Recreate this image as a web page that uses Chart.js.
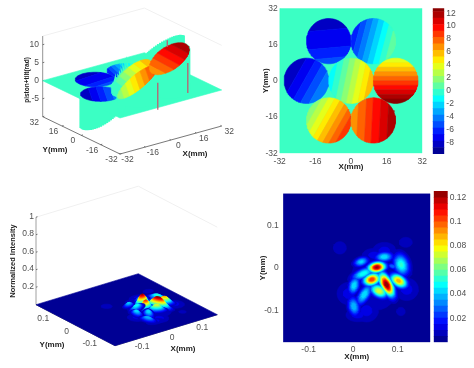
<!DOCTYPE html>
<html>
<head>
<meta charset="utf-8">
<style>
  body{margin:0;background:#fff;width:474px;height:368px;overflow:hidden;position:relative}
  canvas{position:absolute;filter:blur(0.45px)}
</style>
<script src="https://cdn.jsdelivr.net/npm/chart.js@4/dist/chart.umd.min.js"></script>
</head>
<body>
<canvas id="surf3d" style="left:0;top:0" width="237" height="184"></canvas>
<canvas id="phaseMap" style="left:237px;top:0" width="193" height="184"></canvas>
<canvas id="phaseBar" style="left:430px;top:0" width="44" height="184"></canvas>
<canvas id="int3d" style="left:0;top:184px" width="237" height="184"></canvas>
<canvas id="intMap" style="left:237px;top:184px" width="197" height="184"></canvas>
<canvas id="intBar" style="left:431px;top:184px" width="43" height="184"></canvas>
<script>
// ------------------ DATA ------------------
const circleX = [-10, 10, -20, 0, 20, -10, 10];
const circleY = [17.5, 17.5, 0, 0, 0, -17.5, -17.5];
const circleDir = [-85, -15, -30, -12, -90, -30, -3];
const circleEdges = [
  [-10,-5,3,7.5,10],
  [-10,-7.5,-5,-2.5,0,2.5,5,7.5,10],
  [-10,-5,-1,2.5,6,10],
  [-10,-7.5,-5,-2.5,0,2.5,5,7.5,10],
  [-10,-8,-6,-4,-2,0,2,4,6,8,10],
  [-10,-7.5,-5,-2.5,0,2.5,5,7.5,10],
  [-10,-7,-3.5,-0.5,3,6.5,10]
];
const circleValues = [
  [-8.5,-7.5,-6.5,-5.5],
  [-6.5,-5.5,-4.5,-3.5,-2.5,-1.5,-0.5,0.5],
  [-8.5,-7.5,-6.5,-5.5,-4.5],
  [-1.5,-0.5,0.5,1.5,2.5,3.5,4.5,5.5],
  [3.5,4.5,5.5,6.5,7.5,8.5,9.5,10.5,11.5,12.5],
  [1.5,2.5,3.5,4.5,5.5,6.5,7.5,8.5],
  [6.5,7.5,8.5,9.5,10.5,11.5]
];
const streakX = [16, -1, 27];
const streakY = [-25, -22.5, 6.5];
const streakBottom = [0, -3, 6.3];
const streakTop = [8.3, 4.5, 8.2];

const mapTicks = [-32, -16, 0, 16, 32];
const zTicks1 = [-5, 0, 5, 10];
const phaseBarTicks = [-8, -6, -4, -2, 0, 2, 4, 6, 8, 10, 12];
const phaseLevels = [-9.75,-8.75,-7.75,-6.75,-5.75,-4.75,-3.75,-2.75,-1.75,-0.75,0.25,1.25,2.25,3.25,4.25,5.25,6.25,7.25,8.25,9.25,10.25,11.25,12.25,12.75];

const blobX = [0.05,-0.03,0.118,0.01,0.047,0.107,0.07,-0.01,0.12,0.03,0.053,0.075,0.042,0.102,0.058,0.023,0.018,0.0695,0.108,0.002,0.025,0.0015,0.088];
const blobY = [-0.03,0.047,0.06,-0.11,0.03,-0.102,0.04,-0.06,-0.05,-0.1,0.0015,-0.039,-0.027,-0.03,-0.054,-0.013,0.0145,0.026,0.0075,-0.041,-0.062,-0.09,0.004];
const blobPeak = [0.013,0.008,0.008,0.012,0.012,0.008,0.012,0.012,0.012,0.012,0.122,0.126,0.105,0.09,0.075,0.05,0.042,0.045,0.052,0.045,0.045,0.04,0.03];
const blobSx = [0.04,0.015,0.015,0.02,0.02,0.01,0.02,0.02,0.02,0.02,0.0125,0.008,0.0125,0.0135,0.0135,0.018,0.011,0.013,0.011,0.0075,0.008,0.0085,0.007];
const blobSy = [0.05,0.015,0.012,0.012,0.012,0.01,0.015,0.02,0.02,0.02,0.0075,0.019,0.0085,0.0085,0.009,0.0075,0.0065,0.0075,0.017,0.014,0.018,0.015,0.004];
const blobTilt = [0,0,0,0,0,0,0,0,0,0,10,25,20,-35,-30,25,20,5,15,-15,-30,10,-20];

const intXRange = [-0.157, 0.173];
const intYRange = [-0.174, 0.174];
const intTicks = [-0.1, 0, 0.1];
const zTicks3 = [0.2, 0.4, 0.6, 0.8, 1];
const intBarTicks = [0.02, 0.04, 0.06, 0.08, 0.1, 0.12];
const intLevels = [0,0.005,0.01,0.015,0.02,0.025,0.03,0.035,0.04,0.045,0.05,0.055,0.06,0.065,0.07,0.075,0.08,0.085,0.09,0.095,0.1,0.105,0.11,0.115,0.12,0.1255];

const TURQ = jet(0.433);
const FONT = '"Liberation Sans", Arial, sans-serif';
const TICK_COLOR = '#4f4f4f';
const TITLE_COLOR = '#222';

Chart.defaults.animation = false;
Chart.defaults.responsive = false;
Chart.defaults.events = [];
Chart.defaults.font.family = FONT;
Chart.defaults.font.size = 8.5;
Chart.defaults.plugins.legend.display = false;
Chart.defaults.plugins.tooltip.enabled = false;

// ------------------ COLOUR ------------------
function jet(t){
  const c = v => Math.round(255*Math.max(0, Math.min(1, v)));
  return 'rgb('+c(1.5-Math.abs(4*t-3))+','+c(1.5-Math.abs(4*t-2))+','+c(1.5-Math.abs(4*t-1))+')';
}
function bandColor(levels, v){
  const lo = levels[0], hi = levels[levels.length-1];
  let i = 0;
  while(i < levels.length-2 && v >= levels[i+1]) i++;
  return jet(((levels[i]+levels[i+1])/2-lo)/(hi-lo));
}

// ------------------ DATASET HELPERS ------------------
function poly(points, color){
  return {data:points, showLine:true, fill:'shape', backgroundColor:color, borderColor:color, borderWidth:0.6, pointRadius:0, tension:0};
}
function line(points, color, w){
  return {data:points, showLine:true, fill:false, borderColor:color, borderWidth:w||1, pointRadius:0, tension:0};
}
function zigzag(points, color){
  return {data:points, showLine:true, fill:'shape', backgroundColor:color, borderColor:color, borderWidth:2.5, pointRadius:0, tension:0};
}

// outline of one stripe of a circle, in mm
function stripe(c, s0, s1){
  const r = 10, d = circleDir[c]*Math.PI/180;
  const a0 = Math.acos(Math.max(-1, Math.min(1, s0/r))), a1 = Math.acos(Math.max(-1, Math.min(1, s1/r)));
  const pts = [];
  const toXY = (u, w) => ({x:circleX[c]+u*Math.cos(d)-w*Math.sin(d), y:circleY[c]+u*Math.sin(d)+w*Math.cos(d)});
  for(let i=0;i<=10;i++){ const a=a0+(a1-a0)*i/10; pts.push(toXY(r*Math.cos(a), r*Math.sin(a))); }
  for(let i=10;i>=0;i--){ const a=a0+(a1-a0)*i/10; pts.push(toXY(r*Math.cos(a), -r*Math.sin(a))); }
  pts.push(pts[0]);
  return pts;
}
// height of the circle's surface at a point, from its stripes
function heightAt(c, p){
  const d = circleDir[c]*Math.PI/180, e = circleEdges[c], v = circleValues[c];
  const s = (p.x-circleX[c])*Math.cos(d)+(p.y-circleY[c])*Math.sin(d);
  const edgeZ = e.map((_, j) => j===0 ? v[0]-0.5 : j===e.length-1 ? v[v.length-1]+0.5 : (v[j-1]+v[j])/2);
  let j = 0;
  while(j < e.length-2 && s > e[j+1]) j++;
  return edgeZ[j]+(edgeZ[j+1]-edgeZ[j])*(s-e[j])/(e[j+1]-e[j]);
}
function rim(c, steps){
  const pts = [];
  for(let i=0;i<=steps;i++){
    const a = 2*Math.PI*i/steps;
    pts.push({x:circleX[c]+10*Math.cos(a), y:circleY[c]+10*Math.sin(a)});
  }
  return pts;
}
// outline of one contour of a blob
function blobRing(b, level){
  const k = Math.sqrt(2*Math.log(blobPeak[b]/level));
  const t = blobTilt[b]*Math.PI/180;
  const pts = [];
  for(let i=0;i<=28;i++){
    const a = 2*Math.PI*i/28;
    const u = k*blobSx[b]*Math.cos(a), w = k*blobSy[b]*Math.sin(a);
    pts.push({x:blobX[b]+u*Math.cos(t)-w*Math.sin(t), y:blobY[b]+u*Math.sin(t)+w*Math.cos(t)});
  }
  return pts;
}

// ------------------ 3D VIEWS ------------------
function proj1(X, Y, Z){
  const a=(X+32)/64, b=(Y+32)/64;
  return {x:120+a*101.7-b*77.3, y:154-a*28-b*37.3-(Z+10)*3.6};
}
function proj3(X, Y, Z){
  const a=(X+0.17)/0.34, b=(Y+0.17)/0.34;
  return {x:115+a*102.3-b*79, y:161.7-a*31-b*41-Z*87.5};
}
const screenScales = {
  x:{type:'linear', min:0, max:237, display:false},
  y:{type:'linear', min:0, max:184, reverse:true, display:false}
};
function textPlugin(items){
  return {
    id:'labels3d',
    afterDatasetsDraw(chart){
      const ctx = chart.ctx;
      ctx.save();
      items.forEach(t => {
        ctx.font = (t.bold ? 'bold ' : '')+(t.size||8.5)+'px '+FONT;
        ctx.fillStyle = t.bold ? TITLE_COLOR : TICK_COLOR;
        ctx.textAlign = t.align || 'center';
        ctx.textBaseline = 'middle';
        ctx.save();
        ctx.translate(t.x, t.y);
        if(t.rot) ctx.rotate(t.rot);
        ctx.fillText(t.text, 0, 0);
        ctx.restore();
      });
      ctx.restore();
    }
  };
}

// ------------------ TOP LEFT: SURFACE ------------------
function surfaceChart(){
  const ds = [];
  const P = proj1;
  // pale back box
  ds.push(line([P(-32,32,12.4),P(32,32,12.4),P(32,-32,12.4)], '#f0f0f0', 1));
  ds.push(line([P(-32,32,-10),P(-32,32,12.4)], '#777', 0.8));
  ds.push(line([P(-32,32,-10),P(-32,-32,-10),P(32,-32,-10)], '#555', 0.8));
  mapTicks.forEach(v => {
    ds.push(line([P(-32,v,-10),P(-31,v,-10)], '#555', 0.8));
    ds.push(line([P(v,-32,-10),P(v,-31,-10)], '#555', 0.8));
  });
  zTicks1.forEach(v => ds.push(line([P(-32,32,v),P(-31,32,v)], '#555', 0.8)));

  // hanging wall under the deepest circle, then the plane
  const zig = (c, bottom) => {
    const pts = [];
    rim(c, 60).forEach(p => { pts.push(P(p.x,p.y,heightAt(c,p))); pts.push(P(p.x,p.y,bottom)); });
    return pts;
  };
  ds.push(zigzag(zig(2, 0), TURQ));
  ds.push(poly([P(-32,32,0),P(-32,-32,0),P(32,-32,0),P(32,32,0),P(-32,32,0)], TURQ));

  // circles under the plane show through their openings
  [0,1,2,3].forEach(c => {
    circleValues[c].forEach((v, i) => {
      if(v > 0.6) return;
      const pts = stripe(c, circleEdges[c][i], circleEdges[c][i+1]).map(p => P(p.x,p.y,0));
      ds.push(poly(pts, bandColor(phaseLevels, v)));
    });
  });

  // raised circles: walls first, then the tilted tops
  [4,3,6,5].forEach(c => ds.push(zigzag(zig(c, 0), TURQ)));
  [3,5,6].forEach(c => {
    circleValues[c].forEach((v, i) => {
      if(v < 0) return;
      const pts = stripe(c, circleEdges[c][i], circleEdges[c][i+1]).map(p => P(p.x,p.y,heightAt(c,p)));
      ds.push(poly(pts, bandColor(phaseLevels, v)));
    });
  });
  streakX.forEach((x, i) => {
    ds.push(line([P(x,streakY[i],streakBottom[i]),P(x,streakY[i],streakTop[i])], '#c8506a', 1.2));
  });

  const labels = [];
  mapTicks.forEach(v => {
    const a = P(-32,v,-10), b = P(v,-32,-10);
    labels.push({text:String(v), x:a.x-8.5, y:a.y+5.5});
    labels.push({text:String(v), x:b.x+7.5, y:b.y+5.5});
  });
  zTicks1.forEach(v => labels.push({text:String(v), x:39, y:P(-32,32,v).y, align:'right'}));
  labels.push({text:'Y(mm)', x:55, y:150, bold:true, size:8});
  labels.push({text:'X(mm)', x:195, y:154, bold:true, size:8});
  labels.push({text:'piston+tilt(rad)', x:27, y:80, rot:-Math.PI/2, bold:true, size:6.5});

  new Chart(document.getElementById('surf3d'), {
    type:'scatter',
    data:{datasets:ds.reverse()},
    options:{scales:screenScales, layout:{padding:0}},
    plugins:[textPlugin(labels)]
  });
}

// ------------------ 2D MAP AXES ------------------
function mapScale(min, max, ticks, title, pinned, tickPad, titlePad){
  return {
    type:'linear', min:min, max:max,
    grid:{display:false, drawTicks:false}, border:{display:false},
    afterBuildTicks(axis){ axis.ticks = ticks.map(v => ({value:v})); },
    afterFit(axis){
      if(axis.isHorizontal()) axis.height = pinned; else axis.width = pinned;
    },
    ticks:{autoSkip:false, maxRotation:0, color:TICK_COLOR, padding:tickPad, font:{size:8.5}, callback:v => String(v)},
    title:{display:true, text:title, color:TITLE_COLOR, padding:{top:titlePad, bottom:titlePad}, font:{size:8, weight:'bold'}}
  };
}

// ------------------ TOP RIGHT: PHASE MAP ------------------
function phaseMapChart(){
  const ds = [poly([{x:-32,y:-32},{x:32,y:-32},{x:32,y:32},{x:-32,y:32},{x:-32,y:-32}], TURQ)];
  circleValues.forEach((vals, c) => {
    vals.forEach((v, i) => ds.push(poly(stripe(c, circleEdges[c][i], circleEdges[c][i+1]), bandColor(phaseLevels, v))));
  });
  new Chart(document.getElementById('phaseMap'), {
    type:'scatter',
    data:{datasets:ds.reverse()},
    options:{
      layout:{padding:{left:0, right:3, top:8.3, bottom:0}},
      scales:{
        x:mapScale(-32, 32, mapTicks, 'X(mm)', 30.7, 3, 12),
        y:mapScale(-32, 32, mapTicks, 'Y(mm)', 42.7, 2, 24)
      }
    }
  });
}

// ------------------ COLOUR BARS ------------------
function colorBar(id, levels, ticks, padding, axisWidth){
  const ds = [];
  for(let i=0;i<levels.length-1;i++){
    ds.push({
      data:[[levels[i], levels[i+1]]],
      backgroundColor:bandColor(levels, (levels[i]+levels[i+1])/2),
      borderWidth:0, barPercentage:1, categoryPercentage:1
    });
  }
  new Chart(document.getElementById(id), {
    type:'bar',
    data:{labels:[''], datasets:ds},
    options:{
      layout:{padding:padding},
      scales:{
        x:{stacked:true, display:false},
        y:{
          type:'linear', position:'right',
          min:levels[0], max:levels[levels.length-1],
          grid:{display:false, drawTicks:false}, border:{display:false},
          afterBuildTicks(axis){ axis.ticks = ticks.map(v => ({value:v})); },
          afterFit(axis){ axis.width = axisWidth; },
          ticks:{autoSkip:false, color:TICK_COLOR, padding:2, font:{size:8.5}, callback:v => String(v)}
        }
      }
    }
  });
}

// ------------------ BOTTOM LEFT: INTENSITY 3D ------------------
function intensity3dChart(){
  const P = proj3, ds = [];
  ds.push(line([P(-0.17,0.17,1),P(0.17,0.17,1),P(0.17,-0.17,1)], '#f0f0f0', 1));
  ds.push(line([P(-0.17,0.17,0),P(-0.17,0.17,1)], '#888', 0.8));
  ds.push(line([P(-0.17,0.17,0),P(-0.17,-0.17,0),P(0.17,-0.17,0)], '#555', 0.8));
  intTicks.forEach(v => {
    ds.push(line([P(-0.17,v,0),P(-0.165,v,0)], '#555', 0.8));
    ds.push(line([P(v,-0.17,0),P(v,-0.165,0)], '#555', 0.8));
  });
  zTicks3.forEach(v => ds.push(line([P(-0.17,0.17,v),P(-0.165,0.17,v)], '#555', 0.8)));
  ds.push(poly([P(-0.17,0.17,0),P(-0.17,-0.17,0),P(0.17,-0.17,0),P(0.17,0.17,0),P(-0.17,0.17,0)], jet(0.02)));

  // blobs back to front, each one a stack of its contours
  const order = blobPeak.map((_, b) => b).sort((p, q) => (blobX[q]+blobY[q])-(blobX[p]+blobY[p]));
  order.sort((p, q) => (blobPeak[q] < 0.02 ? 1 : 0)-(blobPeak[p] < 0.02 ? 1 : 0));
  order.forEach(b => {
    for(let l=1;l<intLevels.length-1;l++){
      if(blobPeak[b] <= intLevels[l]) break;
      const pts = blobRing(b, intLevels[l]).map(p => P(p.x, p.y, intLevels[l]));
      ds.push(poly(pts, bandColor(intLevels, intLevels[l]+0.001)));
    }
  });

  const labels = [];
  intTicks.forEach(v => {
    const a = P(-0.17,v,0), b = P(v,-0.17,0);
    labels.push({text:String(v), x:a.x-9, y:a.y+6});
    labels.push({text:String(v), x:b.x+6, y:b.y+7});
  });
  zTicks3.forEach(v => labels.push({text:String(v), x:34, y:P(-0.17,0.17,v).y-1, align:'right'}));
  labels.push({text:'Y(mm)', x:52, y:161, bold:true, size:8});
  labels.push({text:'X(mm)', x:183, y:165, bold:true, size:8});
  labels.push({text:'Normalized Intensity', x:13, y:77, rot:-Math.PI/2, bold:true, size:7.5});

  new Chart(document.getElementById('int3d'), {
    type:'scatter',
    data:{datasets:ds.reverse()},
    options:{scales:screenScales, layout:{padding:0}},
    plugins:[textPlugin(labels)]
  });
}

// ------------------ BOTTOM RIGHT: INTENSITY MAP ------------------
function intensityMapChart(){
  const [x0, x1] = intXRange, [y0, y1] = intYRange;
  const ds = [poly([{x:x0,y:y0},{x:x1,y:y0},{x:x1,y:y1},{x:x0,y:y1},{x:x0,y:y0}], jet(0.02))];
  for(let l=1;l<intLevels.length-1;l++){
    blobPeak.forEach((peak, b) => {
      if(peak <= intLevels[l]) return;
      ds.push(poly(blobRing(b, intLevels[l]), bandColor(intLevels, intLevels[l]+0.001)));
    });
  }
  new Chart(document.getElementById('intMap'), {
    type:'scatter',
    data:{datasets:ds.reverse()},
    options:{
      layout:{padding:{left:0, right:3.7, top:5, bottom:0}},
      scales:{
        x:mapScale(x0, x1, intTicks, 'X(mm)', 25.7, 2, 6.5),
        y:mapScale(y0, y1, intTicks, 'Y(mm)', 46.3, 4.5, 21)
      }
    }
  });
}

surfaceChart();
phaseMapChart();
colorBar('phaseBar', phaseLevels, phaseBarTicks, {left:2.7, right:0, top:8.3, bottom:30}, 29.7);
intensity3dChart();
intensityMapChart();
colorBar('intBar', intLevels, intBarTicks, {left:2.7, right:0, top:5, bottom:25.7}, 26.3);
</script>
</body>
</html>
